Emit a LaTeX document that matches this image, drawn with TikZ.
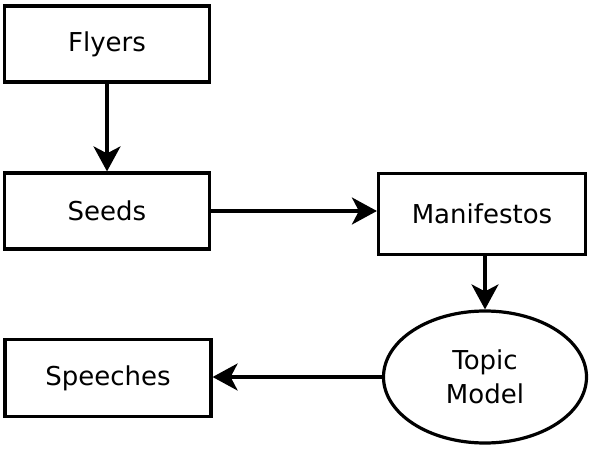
\documentclass[tikz,border=0pt]{standalone}
\usepackage{fontspec}
\setmainfont{DejaVu Sans}
\usetikzlibrary{arrows.meta,shapes.geometric}

\begin{document}
\begin{tikzpicture}[x=1pt,y=-1pt,
    every node/.style={font=\fontsize{26}{34}\selectfont, line width=3.2pt, inner sep=0pt},
    box/.style={draw, rectangle, minimum width=205pt, minimum height=76pt},
    blob/.style={draw, ellipse, minimum width=203pt, minimum height=132pt, align=center},
    link/.style={line width=3.2pt, -{Stealth[length=25pt,width=27pt,inset=7pt]}}]
        % page frame
        \useasboundingbox (0,0) rectangle (596,454);

        % the boxes
        \node[box] (flyers) at (107,44) {Flyers};
        \node[box] (seeds) at (107,211) {Seeds};
        \node[box, minimum width=207pt, minimum height=81pt] (manifestos) at (482,214) {Manifestos};
        \node[box, minimum width=206pt, minimum height=77pt] (speeches) at (108,378) {Speeches};

        % the topic model
        \node[blob] (topic) at (485,377) {Topic\\Model};

        % connectors
        \draw[link] (flyers) -- (seeds);
        \draw[link] (seeds.east) -- (seeds.east -| manifestos.west);
        \draw[link] (topic |- manifestos.south) -- (topic.north);
        \draw[link] (topic.west) -- (topic.west -| speeches.east);
    \end{tikzpicture}
\end{document}
